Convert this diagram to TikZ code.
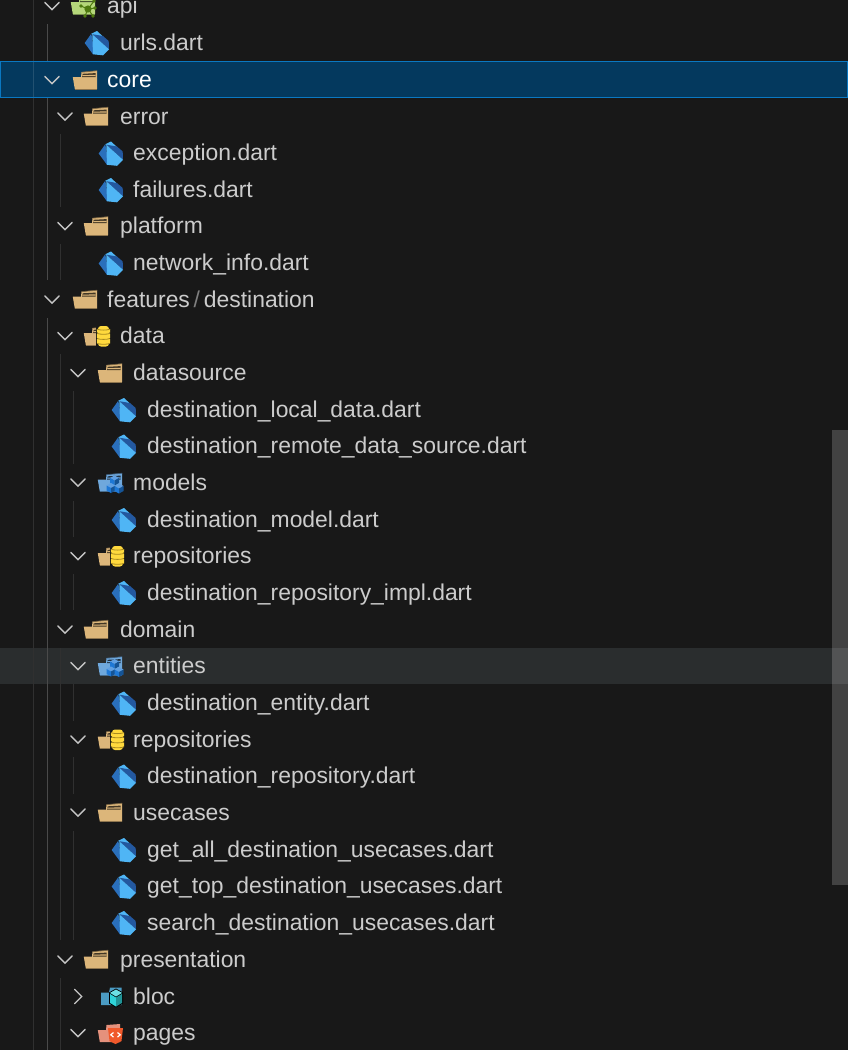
\documentclass[tikz,border=0pt]{standalone}
\usepackage{fontspec}
\setmainfont{Liberation Sans}
\definecolor{bgc}{HTML}{181818}
\definecolor{selc}{HTML}{04395E}
\definecolor{selb}{HTML}{0A78C2}
\definecolor{hovc}{HTML}{2A2D2E}
\definecolor{txt}{HTML}{CCCCCC}
\definecolor{chev}{HTML}{C5C5C5}
\definecolor{gfaint}{HTML}{303030}
\definecolor{gbright}{HTML}{4A4A4A}
\definecolor{tan}{HTML}{DCB67A}
\definecolor{tand}{HTML}{7D6238}
\definecolor{dl}{HTML}{4FB5F5}
\definecolor{dd}{HTML}{23589F}
\definecolor{dm}{HTML}{2A6FBB}
\definecolor{sbar}{HTML}{424242}
\definecolor{sbarh}{HTML}{525354}
\definecolor{cubeb}{HTML}{1E78D6}
\definecolor{foldb}{HTML}{6FA8DC}
\definecolor{dbyel}{HTML}{FFD93D}
\definecolor{dbdark}{HTML}{A88A20}
\definecolor{foldg}{HTML}{B5D77A}
\definecolor{netg}{HTML}{4F7A10}
\definecolor{foldt}{HTML}{4B9CC4}
\definecolor{cubet}{HTML}{2FD3D8}
\definecolor{folds}{HTML}{E5917C}
\definecolor{shld}{HTML}{F0592B}
\tikzset{
  lbl/.style={anchor=base west,inner sep=0pt,text=txt,font=\fontsize{22.9}{27}\selectfont},
  chv/.style={draw=chev,line width=1.3pt,line cap=round,line join=miter},
  gfa/.style={draw=gfaint,line width=1pt},
  gbr/.style={draw=gbright,line width=1pt},
}
% chevrons
\newcommand{\chevd}[2]{\draw[chv] (#1-7.2,#2-3.6) -- (#1,#2+3.6) -- (#1+7.2,#2-3.6);}
\newcommand{\chevr}[2]{\draw[chv] (#1-3.4,#2-7.2) -- (#1+3.8,#2) -- (#1-3.4,#2+7.2);}
% dart icon
\newcommand{\darticon}[2]{\begin{scope}[shift={(#1,#2+1)}]
  \fill[dm] (-12.3,0) -- (-5.7,-9.3) -- (-4,0) -- (-4,11.3) -- cycle;
  \fill[dl] (-5.7,-9.3) -- (0,-12) -- (6,-6.5) -- (-4,-8) -- cycle;
  \fill[dd] (-4.7,-8.8) -- (6,-7) -- (11.7,-2) -- (12,6.3) -- cycle;
  \fill[dl] (-4.7,-8.8) -- (12,6.3) -- (6,12.3) -- (-4,11.3) -- cycle;
\end{scope}}
% open folder
\newcommand{\folderbase}[3]{\begin{scope}[shift={(#1,#2)}]
  \fill[#3] (-3.5,-7.8) -- (12.2,-9.3) -- (12.2,9) -- (-10.2,9) -- (-12.2,-2.8) -- (-4,-2.8) -- cycle;
  \draw[black!45!#3,line width=0.7pt] (-3.5,-7.8) -- (12.2,-9.3);
  \fill[black!70!#3] (-2.3,-6.2) -- (10.6,-6.9) -- (10.6,-2.8) -- (-3,-2.8) -- cycle;
  \fill[#3] (-2.5,-4.8) -- (10.6,-5.2) -- (10.6,-4) -- (-2.8,-4) -- cycle;
  \draw[black!35!#3,line width=0.6pt] (-10.2,9) -- (12.2,9);
\end{scope}}
\newcommand{\dbicon}[2]{\begin{scope}[shift={(#1,#2)}]
  \fill[bgc] (-7.5,-10.5) rectangle (7.5,10.5);
  \fill[dbyel,rounded corners=3pt] (-5.5,-10) rectangle (5.5,10.5);
  \fill[dbyel] (-6.7,-6.8) rectangle (6.7,-3.4) (-6.7,-1.8) rectangle (6.7,1.8) (-6.7,3.2) rectangle (6.7,7);
  \foreach \yy in {-6.8,-2.6,2.5,7.4}{\draw[dbdark,line width=0.8pt] (-6.5,\yy) .. controls (-3,\yy+1.2) and (3,\yy+1.2) .. (6.5,\yy);}
\end{scope}}
\newcommand{\cube}[3]{\begin{scope}[shift={(#1,#2)}]
  \fill[#3!70!white] (-4.5,-2.5) -- (0,-5) -- (4.5,-2.5) -- (0,0) -- cycle;
  \fill[#3] (-4.5,-2.5) -- (0,0) -- (0,5) -- (-4.5,2.5) -- cycle;
  \fill[#3!70!black] (4.5,-2.5) -- (0,0) -- (0,5) -- (4.5,2.5) -- cycle;
\end{scope}}
% file and folder rows
\newcommand{\dartrow}[5]{\darticon{#2}{#3}\node[lbl] (#1) at (#4,#3+8.2) {#5};}
\newcommand{\folderrow}[6]{\chevd{#3}{#4}\folderbase{#5}{#4}{tan}\node[lbl] (#1) at (#6,#4+7.6) {#2};}
\newcommand{\datafolder}[6]{\chevd{#3}{#4}\folderbase{#5}{#4}{tan}\dbicon{#5+7.5}{#4}\node[lbl] (#1) at (#6,#4+7.6) {#2};}
\newcommand{\cubefolder}[6]{\chevd{#3}{#4}\folderbase{#5}{#4}{foldb}\cube{#5+4.5}{#4-2}{cubeb}\cube{#5+1}{#4+5.5}{cubeb}\cube{#5+9}{#4+6}{cubeb}\node[lbl] (#1) at (#6,#4+7.6) {#2};}
\begin{document}
\begin{tikzpicture}[x=1pt,y=-1pt]
\useasboundingbox (0,0) rectangle (848,1050);
\fill[bgc] (0,0) rectangle (848,1050);
% highlighted rows
\fill[hovc] (0,648) rectangle (848,684);
\draw[gfa] (33,0) -- (33,1050);
\fill[selc] (0,61.5) rectangle (848,97.5);
\draw[selb,line width=1pt] (0.5,61.5) rectangle (847.5,97.5);
\draw[draw=white!12!selc,line width=1pt] (33,62) -- (33,97);
% indent guides
\draw[gbr] (47,24) -- (47,61);
\draw[gbr] (47,98) -- (47,280);
\draw[gbr] (47,318) -- (47,1050);
\draw[gfa] (60,134) -- (60,207);
\draw[gfa] (60,244) -- (60,280);
\draw[gfa] (60,354) -- (60,610);
\draw[gfa] (60,648) -- (60,940);
\draw[gfa] (60,978) -- (60,1050);
\draw[gfa] (73,391) -- (73,464);
\draw[gfa] (73,501) -- (73,537);
\draw[gfa] (73,574) -- (73,610);
\draw[gfa] (73,684) -- (73,721);
\draw[gfa] (73,757) -- (73,794);
\draw[gfa] (73,831) -- (73,940);
% scrollbar
\fill[sbar] (832,430) rectangle (848,885);
\fill[sbarh] (832,648) rectangle (848,684);
% rows
\chevd{52}{6}
\folderbase{83}{5}{foldg}
\begin{scope}[shift={(88,9)}]
  \draw[netg,line width=1pt] (-7,-3) -- (0,0) -- (6,-8) (0,0) -- (7,-1) (0,0) -- (-3,7) (0,0) -- (5,7);
  \fill[netg] (0,0) circle (3.6) (-7,-3) circle (1.8) (6,-8) circle (1.8) (7,-1) circle (1.8) (-3,7) circle (1.8) (5,7) circle (1.8);
\end{scope}
\node[lbl] (napi) at (107,13.6) {api};
\dartrow{nurls}{97}{42}{120}{urls.dart}
\chevd{52}{80}
\folderbase{85}{80}{tan}
\node[lbl,text=white] (ncore) at (107,87.6) {core};
\folderrow{nerror}{error}{65}{116.5}{96}{120}
\dartrow{nexc}{111}{152.5}{133}{exception.dart}
\dartrow{nfail}{111}{189}{133}{failures.dart}
\folderrow{nplat}{platform}{65}{226}{96}{120}
\dartrow{nnet}{111}{262.5}{133}{network\_info.dart}
\chevd{52}{299.5}
\folderbase{85}{299.5}{tan}
\node[lbl] (nfeat) at (107,307.1) {features\hspace{3.8pt}{\color{gray}/}\hspace{3.8pt}destination};
\datafolder{ndata}{data}{65}{336}{96}{120}
\folderrow{ndsrc}{datasource}{78}{373}{110}{133}
\dartrow{nloc}{124}{409}{147}{destination\_local\_data.dart}
\dartrow{nrem}{124}{445.5}{147}{destination\_remote\_data\_source.dart}
\cubefolder{nmod}{models}{78}{482.5}{110}{133}
\dartrow{nmodel}{124}{519}{147}{destination\_model.dart}
\datafolder{nrep}{repositories}{78}{556}{110}{133}
\dartrow{nimpl}{124}{592}{147}{destination\_repository\_impl.dart}
\folderrow{ndom}{domain}{65}{629.5}{96}{120}
\cubefolder{nent}{entities}{78}{666}{110}{133}
\dartrow{nentf}{124}{702.5}{147}{destination\_entity.dart}
\datafolder{nrep2}{repositories}{78}{739.5}{110}{133}
\dartrow{nrepf}{124}{775.5}{147}{destination\_repository.dart}
\folderrow{nuse}{usecases}{78}{812.5}{110}{133}
\dartrow{nall}{124}{849}{147}{get\_all\_destination\_usecases.dart}
\dartrow{ntop}{124}{885.5}{147}{get\_top\_destination\_usecases.dart}
\dartrow{nsearch}{124}{922}{147}{search\_destination\_usecases.dart}
\folderrow{npres}{presentation}{65}{959.5}{96}{120}
% bloc
\chevr{78}{996.5}
\begin{scope}[shift={(111,996.5)}]
  \fill[foldt] (-10,-4) -- (-2,-4) -- (-1,-9) -- (10.5,-9) -- (10.5,8.5) -- (-10,8.5) -- cycle;
  \fill[black] (-2,-4) -- (5,-8) -- (12,-4) -- (12,7) -- (5,11) -- (-2,7) -- cycle;
  \fill[cubet!70!white] (-1,-3.6) -- (5,-7) -- (11,-3.6) -- (5,0) -- cycle;
  \fill[cubet] (-1,-2.6) -- (5,1) -- (5,10) -- (-1,6.4) -- cycle;
  \fill[cubet!70!black] (11,-2.6) -- (5,1) -- (5,10) -- (11,6.4) -- cycle;
\end{scope}
\node[lbl] (nbloc) at (133,1004.1) {bloc};
% pages
\chevd{78}{1033}
\begin{scope}[shift={(110,1033)}]
  \fill[folds] (-3.5,-8) -- (10,-9) -- (10,9) -- (-10.2,9) -- (-12.2,-3) -- (-4,-3) -- cycle;
  \fill[shld] (-2,-5) -- (13,-5) -- (11.5,8) -- (5.5,11) -- (-0.5,8) -- cycle;
  \draw[white,line width=1.2pt] (3.5,-0.5) -- (0.8,1.8) -- (3.5,4.1) (7.5,-0.5) -- (10.2,1.8) -- (7.5,4.1);
\end{scope}
\node[lbl] (npages) at (133,1040.6) {pages};
\end{tikzpicture}
\end{document}
